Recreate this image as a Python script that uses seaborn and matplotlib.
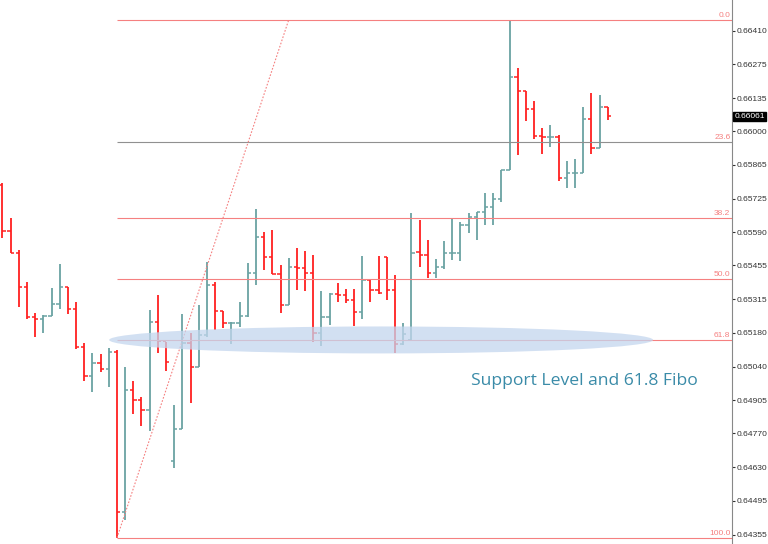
import numpy as np
import matplotlib
matplotlib.use("Agg")
import matplotlib.pyplot as plt
from matplotlib.patches import Ellipse
import seaborn as sns

sns.set_style("white")
plt.rcParams["font.family"] = ["Liberation Sans", "DejaVu Sans"]

# OHLC bars
opens = [0.65782, 0.65595, 0.65505, 0.65366, 0.65244, 0.65236, 0.65248, 0.65297, 0.65366, 0.65277,
         0.65122, 0.65003, 0.65056, 0.65032, 0.65101, 0.64449, 0.64946, 0.64906, 0.64865, 0.65224,
         0.65146, 0.64657, 0.64787, 0.65138, 0.65040, 0.65171, 0.65374, 0.65268, 0.65220, 0.65220,
         0.65248, 0.65423, 0.65570, 0.65489, 0.65419, 0.65293, 0.65448, 0.65444, 0.65423, 0.65179,
         0.65244, 0.65338, 0.65334, 0.65313, 0.65264, 0.65395, 0.65354, 0.65489, 0.65354, 0.65134,
         0.65150, 0.65509, 0.65497, 0.65423, 0.65448, 0.65505, 0.65505, 0.65619, 0.65652, 0.65672,
         0.65692, 0.65725, 0.65843, 0.66223, 0.66165, 0.66092, 0.65982, 0.65978, 0.65978, 0.65811,
         0.65831, 0.65831, 0.66051, 0.65933, 0.66100]
highs = [0.65790, 0.65648, 0.65517, 0.65387, 0.65260, 0.65252, 0.65362, 0.65460, 0.65366, 0.65305,
         0.65138, 0.65097, 0.65093, 0.65118, 0.65109, 0.65040, 0.64983, 0.64918, 0.65273, 0.65334,
         0.65142, 0.64885, 0.65256, 0.65179, 0.65293, 0.65468, 0.65387, 0.65268, 0.65224, 0.65305,
         0.65464, 0.65684, 0.65590, 0.65599, 0.65456, 0.65485, 0.65525, 0.65513, 0.65497, 0.65350,
         0.65342, 0.65383, 0.65358, 0.65358, 0.65493, 0.65395, 0.65493, 0.65489, 0.65415, 0.65220,
         0.65668, 0.65639, 0.65558, 0.65480, 0.65554, 0.65644, 0.65631, 0.65668, 0.65672, 0.65750,
         0.65750, 0.65843, 0.66455, 0.66259, 0.66165, 0.66125, 0.66015, 0.66027, 0.65986, 0.65880,
         0.65888, 0.66100, 0.66157, 0.66149, 0.66100]
lows = [0.65566, 0.65505, 0.65285, 0.65236, 0.65162, 0.65179, 0.65248, 0.65277, 0.65256, 0.65114,
        0.64983, 0.64938, 0.65020, 0.64959, 0.64343, 0.64416, 0.64849, 0.64800, 0.64779, 0.65097,
        0.65024, 0.64628, 0.64787, 0.64893, 0.65040, 0.65162, 0.65191, 0.65199, 0.65134, 0.65203,
        0.65244, 0.65374, 0.65436, 0.65419, 0.65260, 0.65293, 0.65354, 0.65350, 0.65142, 0.65126,
        0.65211, 0.65305, 0.65301, 0.65207, 0.65236, 0.65305, 0.65338, 0.65313, 0.65097, 0.65130,
        0.65150, 0.65448, 0.65403, 0.65403, 0.65440, 0.65476, 0.65472, 0.65586, 0.65558, 0.65619,
        0.65619, 0.65713, 0.65843, 0.65905, 0.66043, 0.65970, 0.65909, 0.65937, 0.65798, 0.65770,
        0.65770, 0.65831, 0.65909, 0.65933, 0.66047]
closes = [0.65595, 0.65505, 0.65366, 0.65244, 0.65236, 0.65248, 0.65297, 0.65366, 0.65277, 0.65122,
          0.65003, 0.65056, 0.65032, 0.65101, 0.64449, 0.64946, 0.64906, 0.64865, 0.65224, 0.65146,
          0.65060, 0.64787, 0.65138, 0.65040, 0.65171, 0.65374, 0.65268, 0.65220, 0.65220, 0.65248,
          0.65423, 0.65570, 0.65489, 0.65419, 0.65293, 0.65448, 0.65444, 0.65423, 0.65179, 0.65244,
          0.65338, 0.65334, 0.65313, 0.65264, 0.65395, 0.65354, 0.65342, 0.65354, 0.65134, 0.65175,
          0.65505, 0.65497, 0.65423, 0.65448, 0.65505, 0.65505, 0.65619, 0.65652, 0.65672, 0.65692,
          0.65725, 0.65843, 0.66223, 0.66165, 0.66092, 0.65982, 0.65978, 0.65978, 0.65811, 0.65831,
          0.65831, 0.66051, 0.65933, 0.66100, 0.66063]

price_ticks = [0.66410, 0.66275, 0.66135, 0.66000, 0.65865, 0.65725, 0.65590, 0.65455,
               0.65315, 0.65180, 0.65040, 0.64905, 0.64770, 0.64630, 0.64495, 0.64355]
fib_high = 0.66455
fib_low = 0.64343
fib_levels = ["0.0", "23.6", "38.2", "50.0", "61.8", "100.0"]
fib_ratios = [0.0, 0.236, 0.382, 0.5, 0.618, 1.0]
current_price = 0.66061

RED = "#ff2020"
TEAL = "#6aa3a3"
FIB = "#f58080"

fig = plt.figure(figsize=(7.68, 5.44), dpi=100)
ax = fig.add_axes([0, 0, 732 / 768, 1])

x = np.arange(len(opens))
for i in x:
    c = TEAL if closes[i] >= opens[i] else RED
    ax.vlines(i, lows[i], highs[i], color=c, lw=1.3)
    ax.hlines(opens[i], i - 0.4, i, color=c, lw=1.1)
    ax.hlines(closes[i], i, i + 0.4, color=c, lw=1.1)

# fibonacci retracement
x_start = 14
x_end = 35
for name, r in zip(fib_levels, fib_ratios):
    lvl = fib_high - r * (fib_high - fib_low)
    col = "#909090" if name == "23.6" else FIB
    ax.hlines(lvl, x_start, 90, color=col, lw=0.8)
    ax.text(89.0, lvl + 0.00004, name, color=FIB, fontsize=6, ha="right", va="bottom")
ax.plot([x_start, x_end], [fib_low, fib_high], color=FIB, lw=0.8, ls=(0, (1.5, 1.5)))

ell = Ellipse((46.3, 0.65150), 66.5, 0.00110, facecolor="#c4d6ee", edgecolor="none", alpha=0.75, zorder=3)
ax.add_patch(ell)
ax.text(57.3, 0.64983, "Support Level and 61.8 Fibo", color="#3a8ba8", fontsize=12.6, va="center",
        family=["Open Sans", "DejaVu Sans"])

ax.set_xlim(-0.3, 89.2)
ax.set_ylim(0.64318, 0.66536)
ax.set_xticks([])
ax.yaxis.tick_right()
ax.set_yticks(price_ticks)
ax.set_yticklabels([f"{p:.5f}" for p in price_ticks], fontsize=6.1)
ax.tick_params(axis="y", length=2, pad=1.5, colors="#333333")
for s in ["top", "left", "bottom"]:
    ax.spines[s].set_visible(False)
ax.spines["right"].set_color("#888888")
ax.text(1.003, (current_price - 0.64318) / (0.66536 - 0.64318), f"{current_price:.5f}",
        transform=ax.transAxes, fontsize=6.1, color="white", va="center", ha="left",
        bbox=dict(boxstyle="square,pad=0.15", fc="black", ec="black"), clip_on=False)

fig.savefig("out.png", dpi=100)
